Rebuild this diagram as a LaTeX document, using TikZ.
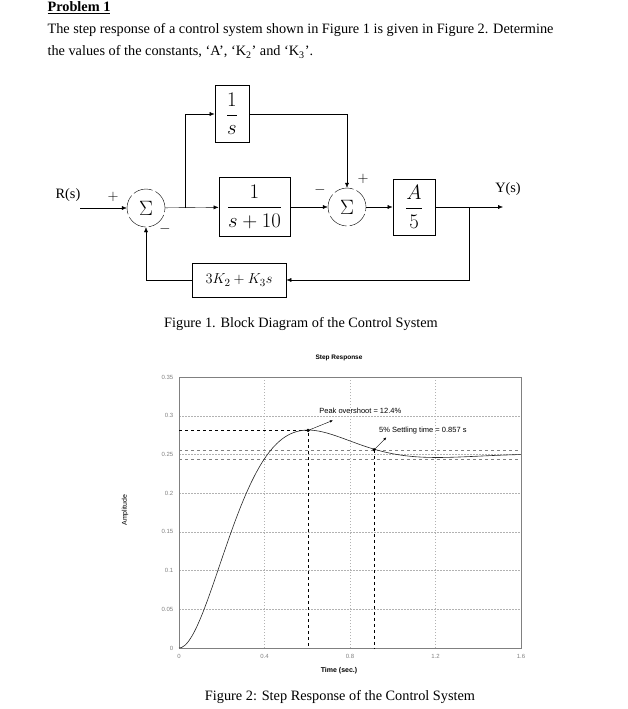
\documentclass[tikz,border=0pt]{standalone}
\usepackage{fontspec}
\setmainfont{Liberation Serif}
\newfontfamily\plotfont{Liberation Sans}
\usepackage{amsmath}
\usetikzlibrary{arrows.meta}
\begin{document}
\begin{tikzpicture}[x=1pt,y=-1pt,>={Latex[length=5pt,width=4pt]},
    blk/.style={draw,line width=0.8pt,minimum width=#1,inner sep=0pt,font=\fontsize{21}{24}\selectfont},
    sumnode/.style={draw,dashed,dash pattern=on 20pt off 3pt,circle,minimum size=38pt,inner sep=0pt,font=\fontsize{21}{24}\selectfont},
    sign/.style={font=\fontsize{14}{16}\selectfont},
    grid/.style={gray!60,dash pattern=on 1.5pt off 1.5pt,line width=0.3pt},
    tick/.style={font=\plotfont\fontsize{6}{7}\selectfont,text=gray},
    txt/.style={font=\fontsize{14.3}{17}\selectfont,anchor=west}]
  \useasboundingbox (0,0) rectangle (628,709);
  % problem statement
  \node[txt,font=\bfseries\fontsize{14.3}{17}\selectfont] (title) at (44,8) {\underline{Problem 1}};
  \node[txt] (line1) at (44,30) {The step response of a control system shown in Figure 1 is given in Figure 2. Determine};
  \node[txt] (line2) at (44,52) {the values of the constants, `A', `K\textsubscript{2}' and `K\textsubscript{3}'.};
  % block diagram
  \node[sumnode] (s1) at (146,208) {$\Sigma$};
  \node[sumnode] (s2) at (347,207) {$\Sigma$};
  \node[blk=34pt,minimum height=57pt] (integ) at (232,114) {$\dfrac{1}{s}$};
  \node[blk=71pt,minimum height=59pt] (plant) at (254.5,207) {$\dfrac{1}{s+10}$};
  \node[blk=42pt,minimum height=56pt] (gain) at (414,207) {$\dfrac{A}{5}$};
  \node[blk=94pt,minimum height=34pt,font=\fontsize{15}{17}\selectfont] (fb) at (239,280) {$3K_2+K_3s$};
  \node[font=\fontsize{14.3}{17}\selectfont] (R) at (68,195) {R(s)};
  \node[font=\fontsize{14.3}{17}\selectfont] (Y) at (508,189) {Y(s)};
  \coordinate (in) at (80,208);
  \coordinate (out) at (503,207);
  \coordinate (b1) at (185,208);
  \coordinate (b2) at (469,207);
  \node[sign] (p1) at (113,197) {$+$};
  \node[sign] (m1) at (165,229) {$-$};
  \node[sign] (m2) at (320,190) {$-$};
  \node[sign] (p2) at (363,179) {$+$};
  \draw[->] (in) -- (s1);
  \draw[->] (s1) -- (plant);
  \draw[->] (b1) |- (integ);
  \draw[->] (integ) -| (s2);
  \draw[->] (plant) -- (s2);
  \draw[->] (s2) -- (gain);
  \draw[->] (gain) -- (out);
  \draw[->] (b2) |- (fb);
  \draw[->] (fb) -| (s1);
  \node[font=\fontsize{14.3}{17}\selectfont] (cap1) at (301,324) {Figure 1. Block Diagram of the Control System};
  % step response plot
  \node[font=\plotfont\bfseries\fontsize{6.5}{8}\selectfont] (stitle) at (339,358) {Step Response};
  \node[font=\plotfont\fontsize{7}{8}\selectfont,rotate=90] (ylab) at (125,510) {Amplitude};
  \node[font=\plotfont\bfseries\fontsize{7}{8}\selectfont] (xlab) at (339,671) {Time (sec.)};
  \begin{scope}[shift={(179,648)},x=213.75pt,y=774.3pt]
    \foreach \v in {0.05,0.1,...,0.31} \draw[grid] (0,\v) -- (1.6,\v);
    \foreach \t in {0.4,0.8,1.2} \draw[grid] (\t,0) -- (\t,0.35);
    \foreach \v/\l in {0/0,0.05/0.05,0.1/0.1,0.15/0.15,0.2/0.2,0.25/0.25,0.3/0.3,0.35/0.35}
      \node[tick,anchor=east] at (-0.01,\v) {\l};
    \foreach \t/\l in {0/0,0.4/0.4,0.8/0.8,1.2/1.2,1.6/1.6}
      \node[tick,anchor=north] at (\t,-0.004) {\l};
    \draw[gray,line width=0.4pt] (0,0) rectangle (1.6,0.35);
    \coordinate (pk) at (0.604,0.281);
    \coordinate (st) at (0.913,0.256);
    \draw[dashed,line width=0.4pt] (0,0.281) -- (pk) -- (0.604,0);
    \draw[dashed,line width=0.4pt] (st) -- (0.913,0);
    \draw[dashed,gray,line width=0.4pt] (0,0.256) -- (1.6,0.256);
    \draw[dashed,gray,line width=0.4pt] (0,0.244) -- (1.6,0.244);
    \draw[line width=0.6pt,gray!30!black] plot[domain=0:1.6,samples=120,smooth]
      (\x,{0.25*(1-exp(-3.43*\x)*(cos(5.2*\x r)+0.6577*sin(5.2*\x r)))});
    \fill (pk) circle (1.8pt);
    \fill (st) circle (1.8pt);
    \node[font=\plotfont\fontsize{7.5}{9}\selectfont,anchor=west] (pklab) at (0.64,0.306) {Peak overshoot = 12.4\%};
    \node[font=\plotfont\fontsize{7.5}{9}\selectfont,anchor=west] (stlab) at (0.92,0.281) {5\% Settling time = 0.857 s};
    \draw[->,>={Latex[length=3pt,width=2.5pt]}] (pk) -- (0.72,0.294);
    \draw[->,>={Latex[length=3pt,width=2.5pt]}] (st) -- (0.97,0.272);
  \end{scope}
  \node[font=\fontsize{14.3}{17}\selectfont] (cap2) at (340,697) {Figure 2: Step Response of the Control System};
\end{tikzpicture}
\end{document}
